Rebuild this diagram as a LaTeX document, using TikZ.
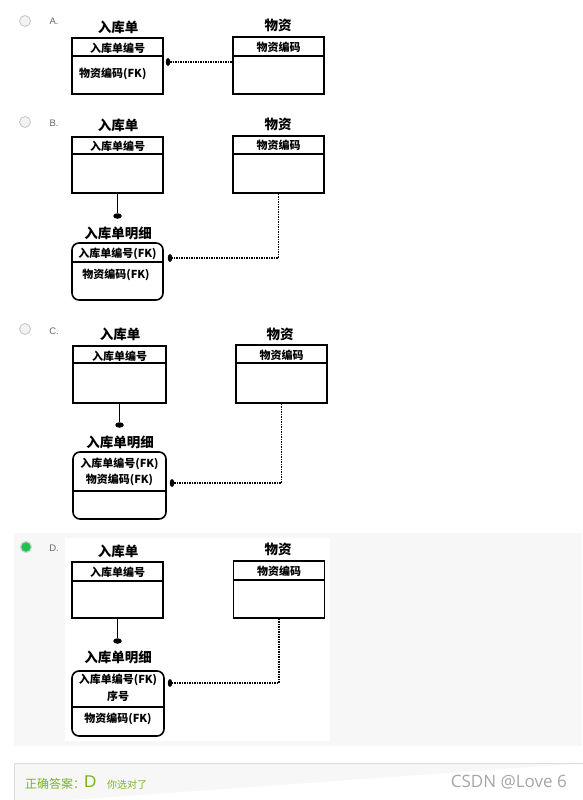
\documentclass[tikz,border=0pt]{standalone}
\usepackage{fontspec}
\newfontfamily\cjk{Noto Sans CJK SC}
\setsansfont{Liberation Sans}
\newfontfamily\wmfont{Open Sans}
\usetikzlibrary{shapes.geometric,calc}
\definecolor{panelgray}{HTML}{F7F7F7}
\definecolor{bordergray}{HTML}{DCDCDC}
\definecolor{okgreen}{HTML}{7AB51C}
\definecolor{radiogreen}{HTML}{1FC24F}
\begin{document}
\begin{tikzpicture}[x=1pt,y=-1pt,
  tbl/.style={draw, line width=1.6pt, minimum width=91pt, inner sep=0pt},
  rtbl/.style={tbl, rounded corners=7pt},
  hdr/.style={font=\cjk\bfseries\fontsize{11}{12}\selectfont, inner sep=0pt},
  ttl/.style={font=\cjk\bfseries\fontsize{13.5}{15}\selectfont, inner sep=0pt},
  radio/.style={circle, draw=gray!45, fill=gray!10, line width=0.8pt, minimum size=11pt, inner sep=0pt},
  optlbl/.style={font=\sffamily\fontsize{9.5}{11}\selectfont, text=gray!80!black, inner sep=0pt},
  vdot/.style={ellipse, fill=black, minimum width=4.5pt, minimum height=8pt, inner sep=0pt},
  hdot/.style={ellipse, fill=black, minimum width=8.5pt, minimum height=5.5pt, inner sep=0pt},
  dotln/.style={line width=1.5pt, dash pattern=on 1.3pt off 1.2pt},
  solidln/.style={line width=1.6pt},
  divln/.style={line width=1.6pt}
]
\useasboundingbox (0,0) rectangle (582,800);
\fill[white] (0,0) rectangle (582,800);

% ---------------- A ----------------
\node[radio] (ra) at (25,21) {};
\node[optlbl] (la) at (54,21) {A.};
\node[ttl] (aT1) at (118,27) {入库单};
\node[ttl] (aT2) at (278,25) {物资};
\node[tbl, minimum height=56pt] (aL) at (117.5,66) {};
\node[tbl, minimum height=57pt] (aR) at (278.5,65.5) {};
\draw[divln] ([yshift=-19pt]aL.north west) -- ([yshift=-19pt]aL.north east);
\draw[divln] ([yshift=-20pt]aR.north west) -- ([yshift=-20pt]aR.north east);
\node[hdr] (aH1) at (117.5,48) {入库单编号};
\node[hdr] (aH2) at (278.5,47) {物资编码};
\node[hdr, anchor=west] (aB1) at (79,74) {物资编码(FK)};
\node[vdot] (ad) at (168,62) {};
\draw[dotln] (ad.east) -- (aR.west |- ad);

% ---------------- B ----------------
\node[radio] (rb) at (25,122) {};
\node[optlbl] (lb) at (54,123) {B.};
\node[ttl] (bT1) at (118,125) {入库单};
\node[ttl] (bT2) at (278,124) {物资};
\node[tbl, minimum height=56pt] (bL) at (117.5,165) {};
\node[tbl, minimum height=57pt] (bR) at (278.5,164.5) {};
\draw[divln] ([yshift=-18pt]bL.north west) -- ([yshift=-18pt]bL.north east);
\draw[divln] ([yshift=-19pt]bR.north west) -- ([yshift=-19pt]bR.north east);
\node[hdr] (bH1) at (117.5,146) {入库单编号};
\node[hdr] (bH2) at (278.5,145) {物资编码};
\node[hdot] (bd1) at (117.5,216) {};
\draw[solidln] (bL.south) -- (bd1.north);
\node[ttl] (bT3) at (118,233) {入库单明细};
\node[rtbl, minimum height=57pt] (bM) at (117.5,271.5) {};
\draw[divln] ([yshift=-20pt]bM.north west) -- ([yshift=-20pt]bM.north east);
\node[hdr] (bM1) at (117.5,254) {入库单编号(FK)};
\node[hdr] (bM2) at (116,275) {物资编码(FK)};
\node[vdot] (bd2) at (170,258) {};
\draw[dotln] (bR.south) |- (bd2.east);

% ---------------- C ----------------
\node[radio] (rc) at (25,329) {};
\node[optlbl] (lc) at (54,331) {C.};
\node[ttl] (cT1) at (120,334) {入库单};
\node[ttl] (cT2) at (280,334) {物资};
\node[tbl, minimum width=93pt, minimum height=57pt] (cL) at (119.5,374.5) {};
\node[tbl, minimum height=58pt] (cR) at (281.5,374) {};
\draw[divln] ([yshift=-18pt]cL.north west) -- ([yshift=-18pt]cL.north east);
\draw[divln] ([yshift=-19pt]cR.north west) -- ([yshift=-19pt]cR.north east);
\node[hdr] (cH1) at (119.5,356) {入库单编号};
\node[hdr] (cH2) at (281.5,355) {物资编码};
\node[hdot] (cd1) at (119.5,425) {};
\draw[solidln] (cL.south) -- (cd1.north);
\node[ttl] (cT3) at (120,442) {入库单明细};
\node[rtbl, minimum width=93pt, minimum height=67pt] (cM) at (119.5,485.5) {};
\draw[divln] ([yshift=-40pt]cM.north west) -- ([yshift=-40pt]cM.north east);
\node[hdr] (cM1) at (119.5,464) {入库单编号(FK)};
\node[hdr] (cM2) at (119.5,480) {物资编码(FK)};
\node[vdot] (cd2) at (172,483) {};
\draw[dotln] (cR.south) |- (cd2.east);

% ---------------- D ----------------
\fill[panelgray] (14,533) rectangle (582,746);
\fill[white] (65,538) rectangle (330,741);
\node[radio, fill=radiogreen, draw=gray!35, line width=1.2pt] (rd) at (26,547) {};
\node[optlbl] (ld) at (54,548) {D.};
\node[ttl] (dT1) at (118,551) {入库单};
\node[ttl] (dT2) at (278,549) {物资};
\node[tbl, minimum height=56pt] (dL) at (117.5,590) {};
\node[tbl, minimum height=57pt] (dR) at (279,589.5) {};
\draw[divln] ([yshift=-20pt]dL.north west) -- ([yshift=-20pt]dL.north east);
\draw[divln] ([yshift=-20pt]dR.north west) -- ([yshift=-20pt]dR.north east);
\node[hdr] (dH1) at (117.5,572) {入库单编号};
\node[hdr] (dH2) at (279,571) {物资编码};
\node[hdot] (dd1) at (117.5,641) {};
\draw[solidln] (dL.south) -- (dd1.north);
\node[ttl] (dT3) at (118,657) {入库单明细};
\node[rtbl, minimum width=92pt, minimum height=65pt] (dM) at (118,703.5) {};
\draw[divln] ([yshift=-37pt]dM.north west) -- ([yshift=-37pt]dM.north east);
\node[hdr] (dM1) at (118,680) {入库单编号(FK)};
\node[hdr] (dM2) at (118,696) {序号};
\node[hdr] (dM3) at (118,719) {物资编码(FK)};
\node[vdot] (dd2) at (170,683) {};
\draw[dotln] (dR.south) |- (dd2.east);

% ---------------- answer bar ----------------
\filldraw[fill=panelgray, draw=bordergray, line width=0.8pt] (14,804) -- (14,763) -- (586,763);
\node[anchor=west, inner sep=0pt, text=okgreen, font=\cjk\fontsize{12}{14}\selectfont] (ans1) at (25,784) {正确答案：};
\node[anchor=west, inner sep=0pt, text=okgreen, font=\sffamily\fontsize{17}{19}\selectfont] (ans2) at (84,782) {D};
\node[anchor=west, inner sep=0pt, text=okgreen, font=\cjk\fontsize{10}{12}\selectfont] (ans3) at (107,785) {你选对了};
\node[anchor=east, inner sep=0pt, text=gray!70, font=\wmfont\fontsize{17}{19}\selectfont] (wm) at (567,782) {CSDN @Love 6};
\end{tikzpicture}
\end{document}
